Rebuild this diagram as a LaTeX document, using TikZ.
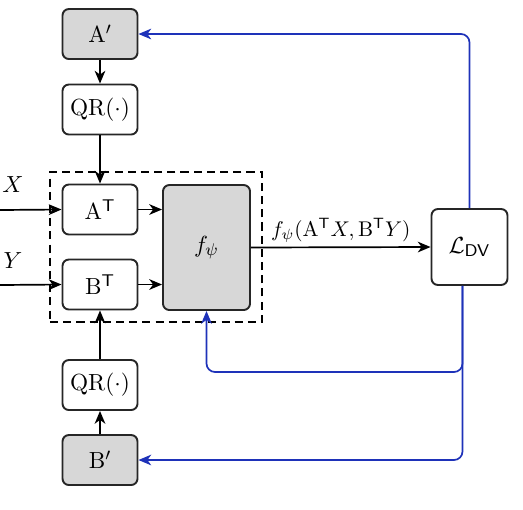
\documentclass[tikz,border=0pt]{standalone}
\usetikzlibrary{arrows.meta,calc}
\definecolor{fbblue}{RGB}{30,50,185}
\definecolor{boxgray}{RGB}{215,215,215}
\begin{document}
\begin{tikzpicture}[x=0.47pt,y=-0.47pt,font=\fontsize{11}{13}\selectfont,
  blk/.style={draw=black!85,line width=0.9pt,rounded corners=3pt,minimum width=35.25pt,minimum height=23.5pt,inner sep=0pt},
  gblk/.style={blk,fill=boxgray},
  arr/.style={line width=0.8pt,-{Stealth[length=6pt,width=5pt,inset=1.8pt]}},
  barr/.style={line width=0.8pt,fbblue,rounded corners=4pt,-{Stealth[length=6pt,width=5pt,inset=1.8pt]}}]
\useasboundingbox (0,0) rectangle (523,509);
\node[draw,dash pattern=on 3.8pt off 2.4pt,line width=0.6pt,minimum width=99.6pt,minimum height=70.5pt,inner sep=0pt] (dash) at (156,247) {};
\node[gblk] (Ap) at (100,34) {$\mathrm{A}'$};
\node[blk] (QRa) at (100,109.5) {$\mathrm{QR}(\cdot)$};
\node[blk] (At) at (100,209.5) {$\mathrm{A}^{\mathsf{T}}$};
\node[blk] (Bt) at (100,284.5) {$\mathrm{B}^{\mathsf{T}}$};
\node[blk] (QRb) at (100,385) {$\mathrm{QR}(\cdot)$};
\node[gblk] (Bp) at (100,460) {$\mathrm{B}'$};
\node[gblk,minimum width=40.9pt,minimum height=58.75pt] (f) at (206.5,247.5) {$f_\psi$};
\node[blk,minimum width=35.7pt,minimum height=35.7pt] (L) at (469.5,247) {$\mathcal{L}_{\mathsf{DV}}$};
\node (xl) at (13,185) {$X$};
\node (yl) at (13,261) {$Y$};
\coordinate (xin) at (0,210);
\coordinate (yin) at (0,285);
\draw[arr] (xin) -- (At.west);
\draw[arr] (yin) -- (Bt.west);
\draw[arr] (Ap.south) -- (QRa.north);
\draw[arr] (QRa.south) -- (At.north);
\draw[arr] (Bp.north) -- (QRb.south);
\draw[arr] (QRb.north) -- (Bt.south);
\draw[arr] (At.east) -- (f.west |- At.east);
\draw[arr] (Bt.east) -- (f.west |- Bt.east);
\draw[arr] (f.east) -- node[above,inner sep=2pt,font=\fontsize{9.6}{11}\selectfont] (lab) {$f_\psi(\mathrm{A}^{\mathsf{T}}X,\mathrm{B}^{\mathsf{T}}Y)$} (L.west);
\coordinate (Ls) at ($(L.south)+(-7,0)$);
\coordinate (br) at (206.5,372);
\draw[barr] (L.north) |- (Ap.east);
\draw[barr] (Ls) |- (Bp.east);
\draw[barr] (Ls) |- (br) -- (f.south);
\end{tikzpicture}
\end{document}
